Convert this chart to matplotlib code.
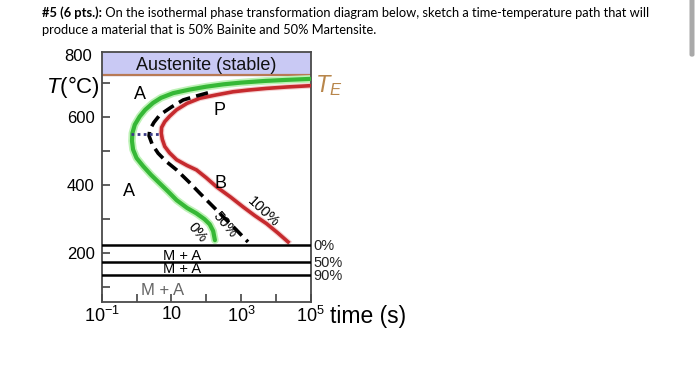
import numpy as np
import matplotlib
matplotlib.use("Agg")
import matplotlib.pyplot as plt
from matplotlib.patches import FancyBboxPatch

plt.rcParams['font.family'] = ['Liberation Sans', 'DejaVu Sans']
plt.rcParams['mathtext.fontset'] = 'custom'
plt.rcParams['mathtext.rm'] = 'Liberation Sans'
plt.rcParams['mathtext.it'] = 'Liberation Sans:italic'

# ---------------- data ----------------
# 0 % transformation (start) curve: log10(time/s), temperature (°C)
start_logt = [5.0, 4.3, 3.7, 3.0, 2.5, 2.0, 1.5, 1.05, 0.7, 0.47, 0.25, 0.09, -0.05, -0.12, -0.13,
              -0.1, 0.0, 0.19, 0.42, 0.67, 0.92, 1.15, 1.45, 1.72, 1.95, 2.1, 2.2, 2.25]
start_T = [713, 710, 707, 702, 697, 690, 681, 671, 657, 642, 622, 602, 578, 553, 530,
           505, 480, 456, 430, 405, 380, 356, 333, 317, 300, 285, 265, 238]
# 50 % curve (dashed)
half_logt = [2.05, 1.7, 1.34, 1.0, 0.67, 0.5, 0.38, 0.36, 0.45, 0.62, 0.85, 1.15, 1.5, 1.82,
             2.15, 2.49, 2.85, 3.2]
half_T = [672, 662, 651, 630, 607, 585, 563, 545, 520, 494, 470, 445, 410, 376, 342, 307, 270, 233]
# 100 % curve (finish)
end_logt = [5.0, 4.3, 3.73, 3.2, 2.77, 2.3, 1.82, 1.45, 1.15, 0.95, 0.81, 0.72, 0.71, 0.74, 0.81,
            0.95, 1.15, 1.45, 1.72, 2.0, 2.3, 2.7, 3.06, 3.4, 3.73, 4.05, 4.35]
end_T = [693, 689, 685, 680, 675, 666, 656, 641, 622, 603, 587, 570, 553, 535, 514,
         495, 475, 458, 445, 422, 395, 365, 336, 310, 287, 260, 233]

T_eutectoid = 725
T_top = 793
T_bottom = 57
martensite_T = [224, 174, 135]
martensite_labels = ['0%', '50%', '90%']
nose_logt = [-0.15, 0.67]
nose_T = 550

xtick_exps = [-1, 0, 1, 2, 3, 4, 5]
xlabel_exps = [-1, 1, 3, 5]
yticks = [100, 200, 300, 400, 500, 600, 700]
ylabels = {200: '200', 400: '400', 600: '600'}

title_bold = "#5 (6 pts.):"
title_rest = " On the isothermal phase transformation diagram below, sketch a time-temperature path that will"
title_line2 = "produce a material that is 50% Bainite and 50% Martensite."

# ---------------- figure ----------------
W, H = 700, 373
fig = plt.figure(figsize=(W / 100, H / 100), dpi=100)
fig.patch.set_facecolor('white')


def fx(px):
    return px / W


def fy(py):
    return 1 - py / H


def ay(T):
    return (T - T_bottom) / (T_top - T_bottom)


ax = fig.add_axes([fx(101.7), fy(301.7), (310.7 - 101.7) / W, (301.7 - 51.7) / H])
ax.set_xscale('log')
ax.set_xlim(10.0 ** -1, 10.0 ** 5)
ax.set_ylim(T_bottom, T_top)


def t(lst):
    return 10.0 ** np.array(lst)


# Austenite band and eutectoid line
ax.axhspan(T_eutectoid, T_top, color='#c9c9f4', zorder=0)
ax.axhline(T_eutectoid, color='#b87a55', lw=1.6, zorder=1)

# curves
ax.plot(t(start_logt), start_T, color='#bdf2b6', lw=5.5, solid_capstyle='round', zorder=2)
ax.plot(t(start_logt), start_T, color='#36b836', lw=3.0, solid_capstyle='round', zorder=3)
ax.plot(t(end_logt), end_T, color='#f2c0c0', lw=4.2, alpha=0.7, zorder=2)
ax.plot(t(end_logt), end_T, color='#c62a2e', lw=2.6, zorder=3)
ax.plot(t(half_logt), half_T, color='black', lw=2.6, dashes=(3.4, 1.7), zorder=4)
ax.plot(t(nose_logt), [nose_T, nose_T], color='#3b3b86', lw=2.0, ls=(0, (1, 1.2)), zorder=4)

# martensite lines
for T in martensite_T:
    ax.axhline(T, color='black', lw=1.8, zorder=3)
for T, lab in zip(martensite_T, martensite_labels):
    ax.text(1.012, ay(T) - 0.004, lab, transform=ax.transAxes, ha='left',
            va='center', fontsize=10.5, color='#222222')

# labels inside
ax.text(10.0 ** 2.0, 751, 'Austenite (stable)', ha='center', va='center', fontsize=13, color='#111111')
ax.text(10.0 ** 0.10, 666, 'A', ha='center', va='center', fontsize=13)
ax.text(10.0 ** 2.38, 621, 'P', ha='center', va='center', fontsize=13)
ax.text(10.0 ** 2.40, 406, 'B', ha='center', va='center', fontsize=13)
ax.text(10.0 ** -0.21, 381, 'A', ha='center', va='center', fontsize=13)
ax.text(10.0 ** 3.64, 322, '100%', ha='center', va='center', fontsize=10.5, rotation=-43)
ax.text(10.0 ** 2.54, 283, '50%', ha='center', va='center', fontsize=10.5, rotation=-50)
ax.text(10.0 ** 1.73, 261, '0%', ha='center', va='center', fontsize=10.5, rotation=-50)
ax.text(10.0 ** 1.32, 192, 'M + A', ha='center', va='center', fontsize=10.5)
ax.text(10.0 ** 1.32, 152, 'M + A', ha='center', va='center', fontsize=10.5)
ax.text(10.0 ** 0.74, 90, 'M + A', ha='center', va='center', fontsize=12, color='#666666')

# T_E label
ax.text(1.02, ay(693), r'$T_E$', transform=ax.transAxes, ha='left', va='center',
        fontsize=17, color='#b8864b')

# ticks
ax.set_xticks([10.0 ** e for e in xtick_exps])
ax.set_xticklabels([('10' if e == 1 else r'$10^{%d}$' % e) if e in xlabel_exps else ''
                    for e in xtick_exps])
ax.xaxis.set_minor_locator(matplotlib.ticker.NullLocator())
ax.set_yticks(yticks)
ax.set_yticklabels([ylabels.get(v, '') for v in yticks])
ax.tick_params(direction='in', length=6, width=1.2, color='#444444', labelsize=12, pad=5,
               top=False, right=False)
ax.tick_params(axis='x', pad=3, labelsize=13)
for s in ax.spines.values():
    s.set_color('#4a4a4a')
    s.set_linewidth(1.3)

# extra axis texts
ax.text(-0.045, ay(780), '800', transform=ax.transAxes, ha='right', va='center', fontsize=12)
ax.text(-0.01, ay(690), r'$T$(°C)', transform=ax.transAxes, ha='right', va='center', fontsize=16)
fig.text(fx(330), fy(316), 'time (s)', ha='left', va='center', fontsize=16.5)

# title (fit width)
r = fig.canvas.get_renderer()
fs = 10.0
tb = fig.text(fx(42), fy(13), title_bold, fontsize=fs, fontweight='bold', family='Lato',
              ha='left', va='center')
wb = tb.get_window_extent(r).width
tr = fig.text(fx(42 + wb), fy(13), title_rest, fontsize=fs, family='Lato', ha='left', va='center')
wr = tr.get_window_extent(r).width
scale = (650 - 42) / (wb + wr)
fs *= scale
tb.set_fontsize(fs)
wb = tb.get_window_extent(r).width
tr.set_fontsize(fs)
tr.set_position((fx(42 + wb), fy(13)))
fig.text(fx(42), fy(30), title_line2, fontsize=fs, family='Lato', ha='left', va='center')

# scrollbar
fig.patches.append(FancyBboxPatch((fx(689.5), fy(57)), fx(5), 0.2,
                                  boxstyle='round,pad=0,rounding_size=0.006',
                                  transform=fig.transFigure, facecolor='#a9a9a9',
                                  edgecolor='none', figure=fig))

fig.savefig('out.png', dpi=100)
